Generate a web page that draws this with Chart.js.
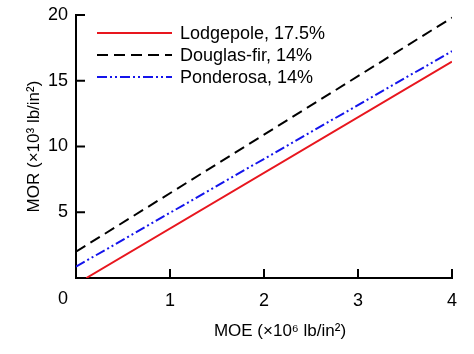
<!DOCTYPE html>
<html lang="en">
  <head>
    <meta charset="UTF-8" />
    <title>MOR vs MOE</title>
    <script src="https://cdn.jsdelivr.net/npm/chart.js@4"></script>
    <style>
      body { margin: 0; background: #fff; }
      .wrap { width: 474px; height: 354px; }
    </style>
  </head>
  <body>
    <div class="wrap">
      <canvas id="morChart"></canvas>
    </div>

    <script>
      //data (MOE x10^6 lb/in2, MOR x10^3 lb/in2)
      const lodgepoleMoe = [0.11, 4];
      const lodgepoleMor = [0, 16.45];
      const douglasMoe = [0, 4];
      const douglasMor = [2.0, 19.8];
      const ponderosaMoe = [0, 4];
      const ponderosaMor = [0.86, 17.25];

      const seriesNames = ["Lodgepole, 17.5%", "Douglas-fir, 14%", "Ponderosa, 14%"];
      const xTicks = [0, 1, 2, 3, 4];
      const yTicks = [0, 5, 10, 15, 20];

      const fontFam = "'Liberation Sans', Arial, sans-serif";
      const red = "rgb(232, 22, 30)";
      const blue = "rgb(20, 20, 235)";
      const black = "#000";

      const dashBlack = [11, 6];
      const dashBlue = [10, 3, 2, 3, 2, 3];

      function toPoints(xs, ys) {
        return xs.map((x, i) => ({ x: x, y: ys[i] }));
      }

      Chart.defaults.font.family = fontFam;
      Chart.defaults.font.size = 18;
      Chart.defaults.color = black;

      const datasets = [
        {
          label: seriesNames[0],
          data: toPoints(lodgepoleMoe, lodgepoleMor),
          borderColor: red,
          borderWidth: 2,
          borderDash: [],
        },
        {
          label: seriesNames[1],
          data: toPoints(douglasMoe, douglasMor),
          borderColor: black,
          borderWidth: 2,
          borderDash: dashBlack,
        },
        {
          label: seriesNames[2],
          data: toPoints(ponderosaMoe, ponderosaMor),
          borderColor: blue,
          borderWidth: 2,
          borderDash: dashBlue,
        },
      ];

      //inward tick marks, offset "0", x title and the legend box
      const axisMarks = {
        id: "axisMarks",
        afterDraw(chart) {
          const c = chart.ctx;
          const xs = chart.scales.x;
          const ys = chart.scales.y;
          const area = chart.chartArea;
          c.save();
          c.strokeStyle = black;
          c.lineWidth = 2;
          c.setLineDash([]);
          xTicks.slice(1).forEach((v) => {
            const px = xs.getPixelForValue(v);
            c.beginPath();
            c.moveTo(px, area.bottom);
            c.lineTo(px, area.bottom - 9);
            c.stroke();
          });
          yTicks.slice(1).forEach((v) => {
            const py = ys.getPixelForValue(v);
            c.beginPath();
            c.moveTo(area.left, py);
            c.lineTo(area.left + 9, py);
            c.stroke();
          });

          c.fillStyle = black;
          c.font = "18px " + fontFam;
          c.textAlign = "center";
          c.textBaseline = "middle";
          c.fillText("0", area.left - 13, 299);
          c.font = "17px " + fontFam;
          c.fillText("MOE (×10⁶ lb/in²)", 280, 331);

          //legend
          const rows = [33, 55, 77];
          const cols = [red, black, blue];
          const dashes = [[], dashBlack, dashBlue];
          c.font = "18px " + fontFam;
          c.textAlign = "left";
          rows.forEach((y, i) => {
            c.strokeStyle = cols[i];
            c.setLineDash(dashes[i]);
            c.beginPath();
            c.moveTo(97, y);
            c.lineTo(172, y);
            c.stroke();
            c.fillText(seriesNames[i], 180, y + 1);
          });
          c.restore();
        },
      };

      const config = {
        type: "line",
        data: { datasets: datasets },
        options: {
          responsive: true,
          maintainAspectRatio: false,
          animation: false,
          layout: {
            padding: { top: 15, right: 22, left: 0, bottom: 0 },
          },
          elements: {
            point: { radius: 0 },
            line: { tension: 0 },
          },
          plugins: {
            legend: { display: false },
            tooltip: { enabled: false },
          },
          scales: {
            x: {
              type: "linear",
              min: 0,
              max: 4,
              afterBuildTicks: (s) => {
                s.ticks = xTicks.map((v) => ({ value: v }));
              },
              afterFit: (s) => {
                s.height = 76;
              },
              grid: { display: false },
              border: { display: true, color: black, width: 2 },
              ticks: {
                padding: 4,
                maxRotation: 0,
                callback: (v) => (v === 0 ? "" : v),
              },
            },
            y: {
              type: "linear",
              min: 0,
              max: 20,
              afterBuildTicks: (s) => {
                s.ticks = yTicks.map((v) => ({ value: v }));
              },
              afterFit: (s) => {
                s.width = 76;
              },
              grid: { display: false },
              border: { display: true, color: black, width: 2 },
              ticks: {
                padding: 0,
                callback: (v) => (v === 0 ? "" : v),
              },
              title: {
                display: true,
                text: "MOR (×10³ lb/in²)",
                font: { size: 17 },
                padding: { top: 24, bottom: 0 },
              },
            },
          },
        },
        plugins: [axisMarks],
      };

      const ctx = document.getElementById("morChart").getContext("2d");
      const morChart = new Chart(ctx, config);
    </script>
  </body>
</html>
